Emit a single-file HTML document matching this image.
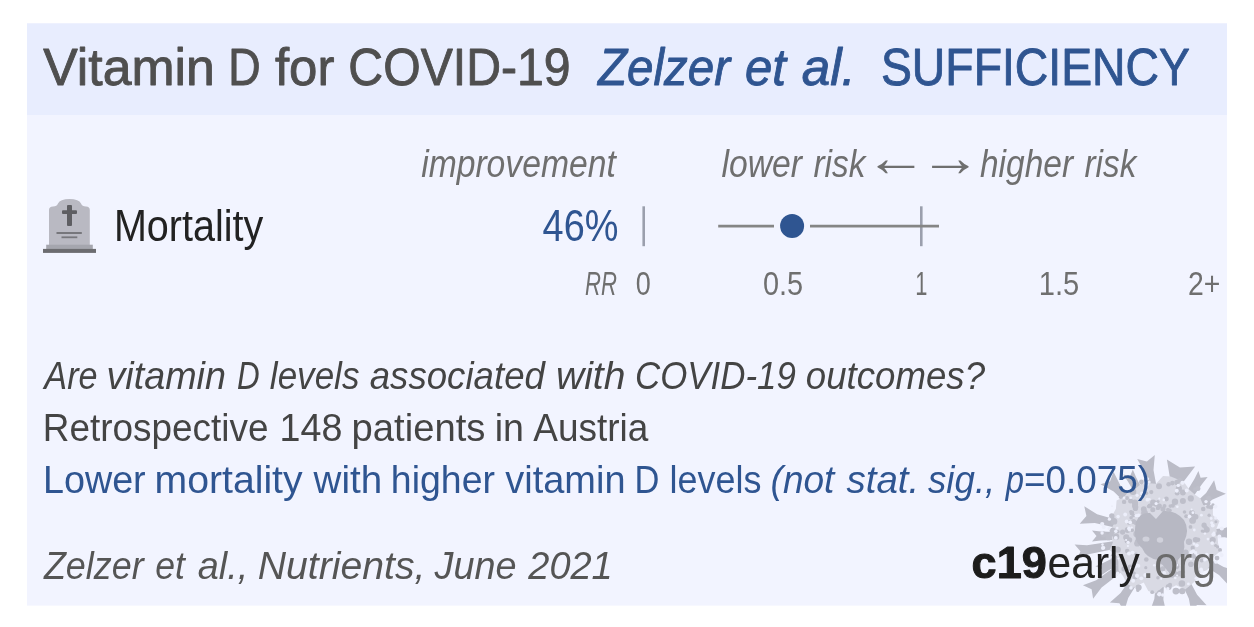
<!DOCTYPE html>
<html lang="en"><head><meta charset="utf-8"><title>Vitamin D for COVID-19: Zelzer et al.</title>
<style>
html,body{margin:0;padding:0;background:#fff;}
body{width:1254px;height:627px;overflow:hidden;font-family:"Liberation Sans", sans-serif;}
svg{display:block;}
text{font-family:"Liberation Sans", sans-serif;white-space:pre;}
</style></head><body>
<svg width="1254" height="627" viewBox="0 0 1254 627">
<defs><clipPath id="panel"><rect x="27" y="23.4" width="1200" height="582.4"/></clipPath></defs>
<rect x="0" y="0" width="1254" height="627" fill="#ffffff"/>
<rect x="27" y="23.4" width="1200" height="582.2" fill="#f2f4ff"/>
<rect x="27" y="23.4" width="1200" height="91.6" fill="#e8edfe"/>
<!-- tombstone icon -->
<g>
<path d="M49 245 V210 Q49 206.5 53 206.5 Q57 206.5 58 203.5 Q60 199 69.5 199 Q79 199 81 203.5 Q82 206.5 86 206.5 Q89.8 206.5 89.8 210 V245 Z" fill="#b9b9c2"/>
<rect x="46.2" y="244.7" width="46.6" height="4.6" fill="#a5a6ae"/>
<rect x="43" y="248.9" width="53" height="4" fill="#6c6c70"/>
<rect x="67" y="205" width="5" height="21" rx="1" fill="#5e5e62"/>
<rect x="62" y="210.2" width="15" height="3.8" rx="1" fill="#5e5e62"/>
<rect x="56.5" y="232" width="25.3" height="2" fill="#77777c"/>
<rect x="61.5" y="236.4" width="15.8" height="1.8" fill="#77777c"/>
</g>
<!-- forest plot -->
<line x1="643.7" y1="206.3" x2="643.7" y2="246.2" stroke="#9b9fad" stroke-width="2.6"/>
<line x1="921.3" y1="206.3" x2="921.3" y2="246.2" stroke="#9b9fad" stroke-width="2.6"/>
<line x1="718.2" y1="226.1" x2="774" y2="226.1" stroke="#858585" stroke-width="2.8"/>
<line x1="810" y1="226.1" x2="939" y2="226.1" stroke="#858585" stroke-width="2.8"/>
<circle cx="792.1" cy="226.1" r="12" fill="#2f5591"/>
<g clip-path="url(#panel)">
<polygon fill="#bbbcc7" points="1157.9,494.1 1153.5,470.1 1154.8,455.1 1146.9,461.4 1137.2,458.9 1144.6,472.0 1150.4,495.7"/>
<polygon fill="#bbbcc7" points="1176.7,496.1 1179.9,486.6 1195.1,466.5 1179.9,467.4 1166.9,459.5 1171.0,484.4 1169.4,494.3"/>
<polygon fill="#bbbcc7" points="1197.3,511.5 1212.1,499.8 1225.9,493.8 1216.6,489.9 1214.1,480.2 1206.1,492.9 1192.4,505.7"/>
<polygon fill="#bbbcc7" points="1205.1,537.6 1224.7,537.3 1238.5,540.5 1233.5,532.2 1237.5,523.5 1224.2,528.2 1204.7,530.0"/>
<polygon fill="#bbbcc7" points="1123.3,521.8 1097.1,514.2 1084.3,506.3 1086.4,516.1 1079.7,523.7 1094.8,523.0 1121.4,529.1"/>
<polygon fill="#bbbcc7" points="1136.6,503.1 1120.3,485.2 1113.5,471.7 1110.1,481.2 1100.5,484.3 1113.7,491.5 1131.1,508.4"/>
<polygon fill="#bbbcc7" points="1121.0,539.9 1087.0,545.3 1074.6,544.6 1080.4,551.2 1077.4,559.4 1088.6,554.3 1122.4,547.3"/>
<polygon fill="#bbbcc7" points="1127.1,558.1 1096.2,580.2 1082.9,585.2 1091.6,589.3 1093.1,598.8 1101.6,587.5 1131.6,564.2"/>
<polygon fill="#bbbcc7" points="1137.0,569.2 1120.6,593.1 1109.9,602.4 1119.4,603.2 1124.1,611.6 1128.2,598.1 1143.4,573.3"/>
<polygon fill="#bbbcc7" points="1156.5,577.7 1154.3,599.1 1149.5,612.4 1158.3,608.5 1166.5,613.6 1163.4,599.7 1164.1,578.2"/>
<polygon fill="#bbbcc7" points="1178.2,575.3 1188.9,598.8 1191.4,612.8 1197.0,605.0 1206.6,605.2 1197.1,594.8 1185.0,572.0"/>
<polygon fill="#bbbcc7" points="1197.1,560.9 1219.0,574.9 1228.6,585.3 1229.1,575.7 1237.4,570.7 1223.7,567.1 1201.0,554.4"/>
<polygon fill="#bbbcc7" points="1146.2,497.3 1136.2,477.5 1132.8,469.4 1130.2,475.9 1123.2,474.6 1128.2,481.9 1139.5,501.0"/>
<polygon fill="#bbbcc7" points="1189.0,502.8 1202.1,483.9 1207.6,477.0 1200.6,477.8 1198.4,471.0 1194.4,478.9 1182.6,498.6"/>
<polygon fill="#bbbcc7" points="1121.0,532.2 1100.8,531.4 1092.0,530.5 1096.5,536.0 1092.0,541.5 1100.8,540.6 1121.0,539.8"/>
<polygon fill="#bbbcc7" points="1124.2,552.6 1103.6,562.8 1095.4,566.2 1102.0,568.9 1100.6,575.8 1107.9,570.8 1127.8,559.3"/>
<polygon fill="#d9dae4" points="1217.5,536.0 1218.1,543.3 1220.2,551.3 1213.5,556.9 1210.7,563.5 1207.3,570.0 1199.7,572.7 1196.6,579.7 1191.1,584.8 1185.2,589.5 1176.2,585.2 1169.9,588.6 1163.0,586.9 1155.4,593.6 1148.3,591.0 1143.7,582.6 1133.1,587.8 1126.7,583.3 1123.0,576.0 1118.4,570.2 1118.3,561.8 1116.7,555.2 1109.6,550.3 1112.8,542.6 1111.1,536.0 1111.0,529.2 1114.4,523.0 1112.5,515.1 1115.9,508.8 1116.6,500.4 1124.0,497.0 1128.7,491.3 1135.5,488.4 1141.3,483.7 1148.9,483.3 1156.1,483.7 1163.0,476.0 1170.8,476.6 1178.1,479.6 1184.8,483.3 1189.6,490.0 1194.8,494.5 1200.4,498.6 1203.2,505.1 1212.9,507.2 1212.9,515.3 1219.5,520.9 1216.4,529.0"/>
<circle cx="1215.9" cy="521.7" r="1.5" fill="#bebfca"/>
<circle cx="1177.3" cy="591.1" r="2.4" fill="#bebfca"/>
<circle cx="1202.2" cy="531.1" r="1.6" fill="#bebfca"/>
<circle cx="1127.0" cy="497.9" r="2.0" fill="#bebfca"/>
<circle cx="1194.9" cy="555.4" r="3.3" fill="#bebfca"/>
<circle cx="1164.5" cy="506.0" r="2.0" fill="#bebfca"/>
<circle cx="1185.6" cy="552.6" r="3.0" fill="#bebfca"/>
<circle cx="1182.8" cy="576.4" r="2.4" fill="#bebfca"/>
<circle cx="1181.5" cy="583.4" r="1.7" fill="#bebfca"/>
<circle cx="1144.4" cy="512.5" r="2.3" fill="#bebfca"/>
<circle cx="1171.1" cy="570.2" r="3.3" fill="#bebfca"/>
<circle cx="1175.0" cy="501.7" r="3.2" fill="#bebfca"/>
<circle cx="1172.6" cy="574.2" r="3.1" fill="#bebfca"/>
<circle cx="1144.5" cy="513.1" r="3.4" fill="#bebfca"/>
<circle cx="1171.0" cy="569.9" r="3.0" fill="#bebfca"/>
<circle cx="1145.8" cy="567.7" r="1.6" fill="#bebfca"/>
<circle cx="1201.7" cy="560.6" r="2.0" fill="#bebfca"/>
<circle cx="1131.9" cy="513.0" r="2.4" fill="#bebfca"/>
<circle cx="1204.1" cy="525.2" r="2.6" fill="#bebfca"/>
<circle cx="1184.5" cy="512.0" r="1.8" fill="#bebfca"/>
<circle cx="1208.1" cy="506.7" r="2.0" fill="#bebfca"/>
<circle cx="1181.9" cy="583.5" r="3.3" fill="#bebfca"/>
<circle cx="1182.2" cy="591.1" r="3.2" fill="#bebfca"/>
<circle cx="1130.9" cy="511.6" r="1.7" fill="#bebfca"/>
<circle cx="1220.0" cy="550.1" r="2.0" fill="#bebfca"/>
<circle cx="1153.2" cy="502.7" r="3.1" fill="#bebfca"/>
<circle cx="1133.4" cy="515.5" r="1.8" fill="#bebfca"/>
<circle cx="1157.8" cy="508.2" r="1.9" fill="#bebfca"/>
<circle cx="1111.8" cy="516.0" r="2.7" fill="#bebfca"/>
<circle cx="1152.2" cy="592.2" r="1.9" fill="#bebfca"/>
<circle cx="1198.0" cy="539.7" r="2.3" fill="#bebfca"/>
<circle cx="1192.7" cy="547.9" r="2.2" fill="#bebfca"/>
<circle cx="1135.6" cy="522.7" r="2.2" fill="#bebfca"/>
<circle cx="1208.9" cy="498.4" r="2.7" fill="#bebfca"/>
<circle cx="1146.4" cy="493.2" r="1.8" fill="#bebfca"/>
<circle cx="1189.0" cy="541.8" r="3.2" fill="#bebfca"/>
<circle cx="1145.2" cy="480.0" r="1.5" fill="#bebfca"/>
<circle cx="1135.2" cy="504.0" r="2.9" fill="#bebfca"/>
<circle cx="1137.8" cy="590.4" r="1.6" fill="#bebfca"/>
<circle cx="1114.1" cy="521.4" r="3.2" fill="#bebfca"/>
<circle cx="1159.0" cy="486.2" r="3.0" fill="#bebfca"/>
<circle cx="1195.7" cy="516.7" r="2.8" fill="#bebfca"/>
<circle cx="1208.2" cy="503.5" r="2.3" fill="#bebfca"/>
<circle cx="1176.9" cy="482.4" r="2.6" fill="#bebfca"/>
<circle cx="1135.4" cy="508.4" r="2.6" fill="#bebfca"/>
<circle cx="1140.7" cy="517.8" r="2.7" fill="#bebfca"/>
<circle cx="1218.9" cy="533.7" r="2.9" fill="#bebfca"/>
<circle cx="1124.0" cy="568.9" r="2.6" fill="#bebfca"/>
<circle cx="1112.3" cy="555.9" r="1.7" fill="#bebfca"/>
<circle cx="1163.0" cy="509.0" r="2.6" fill="#bebfca"/>
<circle cx="1129.4" cy="540.0" r="2.8" fill="#bebfca"/>
<circle cx="1116.1" cy="536.8" r="3.2" fill="#bebfca"/>
<circle cx="1162.0" cy="562.4" r="2.1" fill="#bebfca"/>
<circle cx="1148.6" cy="506.4" r="1.8" fill="#bebfca"/>
<circle cx="1203.2" cy="509.0" r="2.3" fill="#bebfca"/>
<circle cx="1191.9" cy="512.7" r="2.8" fill="#bebfca"/>
<circle cx="1175.9" cy="574.5" r="3.0" fill="#bebfca"/>
<circle cx="1211.0" cy="507.3" r="2.2" fill="#bebfca"/>
<circle cx="1131.1" cy="517.7" r="1.8" fill="#bebfca"/>
<circle cx="1108.6" cy="537.2" r="3.1" fill="#bebfca"/>
<circle cx="1148.9" cy="479.4" r="2.0" fill="#bebfca"/>
<circle cx="1183.1" cy="572.1" r="2.0" fill="#bebfca"/>
<circle cx="1172.0" cy="575.1" r="2.7" fill="#bebfca"/>
<circle cx="1126.3" cy="537.4" r="3.1" fill="#bebfca"/>
<circle cx="1204.1" cy="531.3" r="1.6" fill="#bebfca"/>
<circle cx="1217.6" cy="546.9" r="1.6" fill="#bebfca"/>
<circle cx="1151.3" cy="492.1" r="2.1" fill="#bebfca"/>
<circle cx="1169.9" cy="510.3" r="1.8" fill="#bebfca"/>
<circle cx="1137.2" cy="543.5" r="3.1" fill="#bebfca"/>
<circle cx="1165.4" cy="566.7" r="1.6" fill="#bebfca"/>
<circle cx="1134.7" cy="506.1" r="2.7" fill="#bebfca"/>
<circle cx="1133.0" cy="491.8" r="3.3" fill="#bebfca"/>
<circle cx="1149.9" cy="506.0" r="2.4" fill="#bebfca"/>
<circle cx="1174.4" cy="559.8" r="2.4" fill="#bebfca"/>
<circle cx="1155.8" cy="504.7" r="2.0" fill="#bebfca"/>
<circle cx="1134.9" cy="577.0" r="2.5" fill="#bebfca"/>
<circle cx="1124.1" cy="501.9" r="2.2" fill="#bebfca"/>
<circle cx="1177.8" cy="481.1" r="1.7" fill="#bebfca"/>
<circle cx="1209.1" cy="515.2" r="1.7" fill="#bebfca"/>
<circle cx="1117.7" cy="549.6" r="3.2" fill="#bebfca"/>
<circle cx="1130.6" cy="567.7" r="3.2" fill="#bebfca"/>
<circle cx="1179.8" cy="480.4" r="2.4" fill="#bebfca"/>
<circle cx="1143.8" cy="509.2" r="2.9" fill="#bebfca"/>
<circle cx="1182.9" cy="492.5" r="2.9" fill="#bebfca"/>
<circle cx="1175.9" cy="591.1" r="3.4" fill="#bebfca"/>
<circle cx="1206.8" cy="529.7" r="3.0" fill="#bebfca"/>
<circle cx="1138.6" cy="587.5" r="3.1" fill="#bebfca"/>
<circle cx="1146.3" cy="559.5" r="2.3" fill="#bebfca"/>
<circle cx="1113.5" cy="519.8" r="2.4" fill="#bebfca"/>
<circle cx="1215.7" cy="545.5" r="1.6" fill="#bebfca"/>
<circle cx="1172.8" cy="505.7" r="2.1" fill="#bebfca"/>
<circle cx="1170.3" cy="506.1" r="1.8" fill="#bebfca"/>
<circle cx="1112.7" cy="530.8" r="3.1" fill="#bebfca"/>
<circle cx="1141.4" cy="482.0" r="2.4" fill="#bebfca"/>
<circle cx="1190.5" cy="526.9" r="1.9" fill="#bebfca"/>
<circle cx="1127.6" cy="530.0" r="2.9" fill="#bebfca"/>
<circle cx="1134.9" cy="502.5" r="3.1" fill="#bebfca"/>
<circle cx="1129.0" cy="522.5" r="2.2" fill="#bebfca"/>
<circle cx="1194.9" cy="489.2" r="1.9" fill="#bebfca"/>
<circle cx="1197.9" cy="488.5" r="2.5" fill="#bebfca"/>
<circle cx="1133.6" cy="521.5" r="2.5" fill="#bebfca"/>
<circle cx="1116.4" cy="535.1" r="1.6" fill="#bebfca"/>
<circle cx="1205.7" cy="527.7" r="2.3" fill="#bebfca"/>
<circle cx="1177.2" cy="493.2" r="2.4" fill="#bebfca"/>
<circle cx="1152.8" cy="509.7" r="2.5" fill="#bebfca"/>
<circle cx="1112.8" cy="566.2" r="3.3" fill="#bebfca"/>
<circle cx="1157.9" cy="577.8" r="1.7" fill="#bebfca"/>
<circle cx="1113.9" cy="557.7" r="3.2" fill="#bebfca"/>
<circle cx="1126.6" cy="541.4" r="1.9" fill="#bebfca"/>
<circle cx="1120.6" cy="497.2" r="1.7" fill="#bebfca"/>
<circle cx="1167.9" cy="509.7" r="1.9" fill="#bebfca"/>
<circle cx="1170.0" cy="584.9" r="2.1" fill="#bebfca"/>
<circle cx="1134.1" cy="573.1" r="1.7" fill="#bebfca"/>
<circle cx="1159.4" cy="506.0" r="2.5" fill="#bebfca"/>
<circle cx="1162.9" cy="568.7" r="2.5" fill="#bebfca"/>
<circle cx="1127.2" cy="551.0" r="2.3" fill="#bebfca"/>
<circle cx="1132.1" cy="530.2" r="1.9" fill="#bebfca"/>
<circle cx="1130.6" cy="501.0" r="2.5" fill="#bebfca"/>
<circle cx="1190.8" cy="498.4" r="3.1" fill="#bebfca"/>
<circle cx="1168.6" cy="586.9" r="3.0" fill="#bebfca"/>
<circle cx="1193.1" cy="514.9" r="2.1" fill="#bebfca"/>
<circle cx="1192.6" cy="520.4" r="3.4" fill="#bebfca"/>
<circle cx="1186.2" cy="516.2" r="2.0" fill="#bebfca"/>
<circle cx="1157.9" cy="501.6" r="1.7" fill="#bebfca"/>
<circle cx="1182.9" cy="500.9" r="3.0" fill="#bebfca"/>
<circle cx="1190.9" cy="564.2" r="2.8" fill="#bebfca"/>
<circle cx="1195.6" cy="539.7" r="2.8" fill="#bebfca"/>
<circle cx="1213.0" cy="504.9" r="1.7" fill="#bebfca"/>
<circle cx="1111.3" cy="534.2" r="2.5" fill="#bebfca"/>
<circle cx="1150.2" cy="506.2" r="1.6" fill="#bebfca"/>
<circle cx="1184.4" cy="552.9" r="2.5" fill="#bebfca"/>
<circle cx="1117.9" cy="531.8" r="1.8" fill="#bebfca"/>
<circle cx="1176.2" cy="566.2" r="3.1" fill="#bebfca"/>
<circle cx="1220.4" cy="532.5" r="1.7" fill="#bebfca"/>
<circle cx="1217.0" cy="558.1" r="2.4" fill="#bebfca"/>
<circle cx="1166.4" cy="499.0" r="2.4" fill="#bebfca"/>
<circle cx="1122.6" cy="532.1" r="2.6" fill="#bebfca"/>
<circle cx="1212.7" cy="540.1" r="3.1" fill="#bebfca"/>
<circle cx="1180.3" cy="573.6" r="2.9" fill="#bebfca"/>
<circle cx="1136.0" cy="554.3" r="1.8" fill="#bebfca"/>
<circle cx="1136.6" cy="533.9" r="3.2" fill="#bebfca"/>
<circle cx="1178.9" cy="488.7" r="3.1" fill="#bebfca"/>
<circle cx="1135.7" cy="507.1" r="2.6" fill="#bebfca"/>
<circle cx="1103.6" cy="534.4" r="3.0" fill="#bebfca"/>
<circle cx="1160.0" cy="592.9" r="2.9" fill="#bebfca"/>
<circle cx="1172.4" cy="483.1" r="2.3" fill="#bebfca"/>
<circle cx="1207.5" cy="502.2" r="2.8" fill="#bebfca"/>
<circle cx="1168.6" cy="484.3" r="2.3" fill="#bebfca"/>
<circle cx="1158.1" cy="508.0" r="2.1" fill="#bebfca"/>
<circle cx="1137.1" cy="541.1" r="2.2" fill="#bebfca"/>
<circle cx="1130.8" cy="497.8" r="1.3" fill="#eceefa"/>
<circle cx="1211.2" cy="518.5" r="1.4" fill="#eceefa"/>
<circle cx="1137.1" cy="495.3" r="1.6" fill="#eceefa"/>
<circle cx="1115.3" cy="575.6" r="1.8" fill="#eceefa"/>
<circle cx="1146.6" cy="484.2" r="2.2" fill="#eceefa"/>
<circle cx="1212.2" cy="543.1" r="1.9" fill="#eceefa"/>
<circle cx="1161.2" cy="578.8" r="1.1" fill="#eceefa"/>
<circle cx="1177.1" cy="575.6" r="1.1" fill="#eceefa"/>
<circle cx="1162.7" cy="595.0" r="1.7" fill="#eceefa"/>
<circle cx="1102.1" cy="533.0" r="1.7" fill="#eceefa"/>
<circle cx="1213.4" cy="534.4" r="2.0" fill="#eceefa"/>
<circle cx="1206.6" cy="558.6" r="1.9" fill="#eceefa"/>
<circle cx="1220.4" cy="552.7" r="1.2" fill="#eceefa"/>
<circle cx="1128.1" cy="542.3" r="1.6" fill="#eceefa"/>
<circle cx="1138.6" cy="515.5" r="2.1" fill="#eceefa"/>
<circle cx="1121.8" cy="558.4" r="1.7" fill="#eceefa"/>
<circle cx="1137.0" cy="565.3" r="1.8" fill="#eceefa"/>
<circle cx="1126.7" cy="521.5" r="1.9" fill="#eceefa"/>
<circle cx="1154.3" cy="565.2" r="1.3" fill="#eceefa"/>
<circle cx="1196.8" cy="545.3" r="1.9" fill="#eceefa"/>
<circle cx="1117.8" cy="573.4" r="1.9" fill="#eceefa"/>
<circle cx="1221.6" cy="555.1" r="2.1" fill="#eceefa"/>
<circle cx="1215.8" cy="562.3" r="1.5" fill="#eceefa"/>
<circle cx="1102.5" cy="544.6" r="1.3" fill="#eceefa"/>
<circle cx="1103.7" cy="527.2" r="1.9" fill="#eceefa"/>
<circle cx="1102.9" cy="548.1" r="2.0" fill="#eceefa"/>
<circle cx="1136.2" cy="515.6" r="1.7" fill="#eceefa"/>
<circle cx="1127.9" cy="546.0" r="1.1" fill="#eceefa"/>
<circle cx="1129.5" cy="530.0" r="1.5" fill="#eceefa"/>
<circle cx="1141.0" cy="497.2" r="1.3" fill="#eceefa"/>
<circle cx="1125.2" cy="514.5" r="1.9" fill="#eceefa"/>
<circle cx="1102.2" cy="524.1" r="2.1" fill="#eceefa"/>
<circle cx="1159.3" cy="498.6" r="1.1" fill="#eceefa"/>
<circle cx="1206.0" cy="501.6" r="1.7" fill="#eceefa"/>
<circle cx="1138.5" cy="565.9" r="1.8" fill="#eceefa"/>
<circle cx="1118.1" cy="516.6" r="1.8" fill="#eceefa"/>
<circle cx="1163.8" cy="499.9" r="1.3" fill="#eceefa"/>
<circle cx="1221.8" cy="528.5" r="2.1" fill="#eceefa"/>
<circle cx="1194.0" cy="543.8" r="1.3" fill="#eceefa"/>
<circle cx="1118.5" cy="558.6" r="1.1" fill="#eceefa"/>
<circle cx="1131.8" cy="527.6" r="1.1" fill="#eceefa"/>
<circle cx="1141.7" cy="493.4" r="1.8" fill="#eceefa"/>
<circle cx="1131.3" cy="568.4" r="1.3" fill="#eceefa"/>
<circle cx="1133.1" cy="580.8" r="2.0" fill="#eceefa"/>
<circle cx="1193.2" cy="551.2" r="2.0" fill="#eceefa"/>
<circle cx="1124.1" cy="497.7" r="1.3" fill="#eceefa"/>
<circle cx="1129.0" cy="553.5" r="2.0" fill="#eceefa"/>
<circle cx="1128.4" cy="573.3" r="2.2" fill="#eceefa"/>
<circle cx="1141.3" cy="578.3" r="1.9" fill="#eceefa"/>
<circle cx="1201.4" cy="515.2" r="1.4" fill="#eceefa"/>
<circle cx="1210.6" cy="569.2" r="1.1" fill="#eceefa"/>
<circle cx="1204.7" cy="559.9" r="1.6" fill="#eceefa"/>
<circle cx="1147.4" cy="499.7" r="1.9" fill="#eceefa"/>
<circle cx="1195.7" cy="552.9" r="1.8" fill="#eceefa"/>
<circle cx="1197.6" cy="555.5" r="1.9" fill="#eceefa"/>
<circle cx="1149.5" cy="499.3" r="1.2" fill="#eceefa"/>
<circle cx="1129.6" cy="577.5" r="1.4" fill="#eceefa"/>
<circle cx="1202.0" cy="571.4" r="1.7" fill="#eceefa"/>
<circle cx="1215.4" cy="506.6" r="2.1" fill="#eceefa"/>
<circle cx="1111.5" cy="557.2" r="1.4" fill="#eceefa"/>
<circle cx="1145.4" cy="575.0" r="2.1" fill="#eceefa"/>
<circle cx="1192.9" cy="512.7" r="1.4" fill="#eceefa"/>
<circle cx="1135.4" cy="567.1" r="1.5" fill="#eceefa"/>
<circle cx="1135.4" cy="559.5" r="1.7" fill="#eceefa"/>
<circle cx="1176.8" cy="490.8" r="2.0" fill="#eceefa"/>
<circle cx="1130.1" cy="522.3" r="1.9" fill="#eceefa"/>
<circle cx="1191.6" cy="509.5" r="1.0" fill="#eceefa"/>
<circle cx="1115.8" cy="531.3" r="1.7" fill="#eceefa"/>
<circle cx="1212.7" cy="525.4" r="2.0" fill="#eceefa"/>
<circle cx="1206.7" cy="554.6" r="1.9" fill="#eceefa"/>
<circle cx="1191.2" cy="552.4" r="1.9" fill="#eceefa"/>
<circle cx="1189.4" cy="516.6" r="1.8" fill="#eceefa"/>
<circle cx="1196.3" cy="578.3" r="1.8" fill="#eceefa"/>
<circle cx="1164.1" cy="573.0" r="1.9" fill="#eceefa"/>
<circle cx="1109.0" cy="528.6" r="1.5" fill="#eceefa"/>
<circle cx="1131.0" cy="587.9" r="1.8" fill="#eceefa"/>
<circle cx="1115.8" cy="537.9" r="1.9" fill="#eceefa"/>
<circle cx="1147.6" cy="478.8" r="1.5" fill="#eceefa"/>
<circle cx="1186.7" cy="490.4" r="2.0" fill="#eceefa"/>
<circle cx="1182.5" cy="482.8" r="2.1" fill="#eceefa"/>
<circle cx="1211.7" cy="522.8" r="1.6" fill="#eceefa"/>
<circle cx="1149.2" cy="482.1" r="1.5" fill="#eceefa"/>
<circle cx="1132.6" cy="552.6" r="1.9" fill="#eceefa"/>
<circle cx="1204.9" cy="533.6" r="1.2" fill="#eceefa"/>
<circle cx="1175.3" cy="577.8" r="1.4" fill="#eceefa"/>
<circle cx="1194.3" cy="530.0" r="1.4" fill="#eceefa"/>
<circle cx="1201.1" cy="569.5" r="1.9" fill="#eceefa"/>
<circle cx="1176.7" cy="564.9" r="1.6" fill="#eceefa"/>
<circle cx="1112.0" cy="506.2" r="1.0" fill="#eceefa"/>
<circle cx="1190.9" cy="558.7" r="1.3" fill="#eceefa"/>
<circle cx="1167.8" cy="588.7" r="1.7" fill="#eceefa"/>
<circle cx="1168.9" cy="571.4" r="1.3" fill="#eceefa"/>
<circle cx="1188.4" cy="583.9" r="1.4" fill="#eceefa"/>
<circle cx="1109.4" cy="519.2" r="1.6" fill="#eceefa"/>
<circle cx="1159.2" cy="594.3" r="2.1" fill="#eceefa"/>
<circle cx="1137.0" cy="575.8" r="2.1" fill="#eceefa"/>
<circle cx="1126.1" cy="540.0" r="1.1" fill="#eceefa"/>
<circle cx="1215.6" cy="518.0" r="1.5" fill="#eceefa"/>
<circle cx="1117.2" cy="528.0" r="1.3" fill="#eceefa"/>
<circle cx="1213.9" cy="532.9" r="1.3" fill="#eceefa"/>
<circle cx="1208.0" cy="539.1" r="1.4" fill="#eceefa"/>
<circle cx="1178.3" cy="485.4" r="1.7" fill="#eceefa"/>
<circle cx="1182.3" cy="565.2" r="1.4" fill="#eceefa"/>
<circle cx="1159.6" cy="593.7" r="1.6" fill="#eceefa"/>
<circle cx="1122.7" cy="489.2" r="1.3" fill="#eceefa"/>
<circle cx="1129.0" cy="528.5" r="1.9" fill="#eceefa"/>
<circle cx="1219.3" cy="536.5" r="2.0" fill="#eceefa"/>
<circle cx="1177.3" cy="506.7" r="1.3" fill="#eceefa"/>
<circle cx="1156.1" cy="503.6" r="1.6" fill="#eceefa"/>
<circle cx="1103.6" cy="547.8" r="1.7" fill="#eceefa"/>
<path fill="#b7b8c3" d="M1136 522 Q1140 512 1150 513 L1156 519 L1163 511 Q1176 510 1184 520 Q1190 530 1184 542 Q1186 552 1178 560 Q1176 572 1170 574 Q1164 566 1158 560 Q1146 558 1142 548 Q1132 540 1136 522 Z"/>
<ellipse cx="1146" cy="539" rx="3.5" ry="2.6" fill="#d0d1db"/><ellipse cx="1160" cy="540" rx="3.2" ry="2.8" fill="#d0d1db"/>
</g>
<g>
<text transform="translate(43.25 85.00) scale(0.9944 1.0000)" font-size="52.03" fill="#4f4f4f" stroke="#4f4f4f" stroke-width="0.9" stroke-linejoin="round">Vitamin</text>
<text transform="translate(228.28 85.00) scale(0.8617 1.0000)" font-size="52.03" fill="#4f4f4f" stroke="#4f4f4f" stroke-width="0.9" stroke-linejoin="round">D</text>
<text transform="translate(274.94 85.00) scale(0.9793 1.0000)" font-size="52.03" fill="#4f4f4f" stroke="#4f4f4f" stroke-width="0.9" stroke-linejoin="round">for</text>
<text transform="translate(348.36 85.00) scale(0.9266 1.0000)" font-size="52.03" fill="#4f4f4f" stroke="#4f4f4f" stroke-width="0.9" stroke-linejoin="round">COVID-19</text>
<text transform="translate(597.90 85.00) scale(0.9144 1.0000)" font-size="52.03" fill="#2f5591" font-style="italic" stroke="#2f5591" stroke-width="0.9" stroke-linejoin="round">Zelzer</text>
<text transform="translate(744.89 85.00) scale(0.9444 1.0000)" font-size="52.03" fill="#2f5591" font-style="italic" stroke="#2f5591" stroke-width="0.9" stroke-linejoin="round">et</text>
<text transform="translate(801.64 85.00) scale(0.9853 1.0000)" font-size="52.03" fill="#2f5591" font-style="italic" stroke="#2f5591" stroke-width="0.9" stroke-linejoin="round">al.</text>
<text transform="translate(880.95 85.00) scale(0.8911 1.0000)" font-size="52.03" fill="#2f5591" stroke="#2f5591" stroke-width="0.9" stroke-linejoin="round">SUFFICIENCY</text>
<text transform="translate(421.17 177.00) scale(0.8526 1.0000)" font-size="39.50" fill="#6f6f6f" font-style="italic">improvement</text>
<text transform="translate(721.47 177.00) scale(0.8540 1.0000)" font-size="39.50" fill="#6f6f6f" font-style="italic">lower</text>
<text transform="translate(813.48 177.00) scale(0.8458 1.0000)" font-size="39.50" fill="#6f6f6f" font-style="italic">risk</text>
<text transform="translate(979.98 177.00) scale(0.8489 1.0000)" font-size="39.50" fill="#6f6f6f" font-style="italic">higher</text>
<text transform="translate(1084.48 177.00) scale(0.8442 1.0000)" font-size="39.50" fill="#6f6f6f" font-style="italic">risk</text>
<text transform="translate(113.91 241.00) scale(0.8775 1.0000)" font-size="45.06" fill="#222222">Mortality</text>
<text transform="translate(542.61 241.00) scale(0.8407 1.0000)" font-size="45.06" fill="#2f5591">46%</text>
<text transform="translate(584.95 295.00) scale(0.6679 1.0000)" font-size="33.14" fill="#6f6f6f" font-style="italic">RR</text>
<text transform="translate(635.76 295.00) scale(0.8147 1.0000)" font-size="33.14" fill="#6f6f6f">0</text>
<text transform="translate(763.00 295.00) scale(0.8721 1.0000)" font-size="33.14" fill="#6f6f6f">0.5</text>
<text transform="translate(915.33 295.00) scale(0.6593 1.0000)" font-size="33.14" fill="#6f6f6f">1</text>
<text transform="translate(1038.68 295.00) scale(0.8792 1.0000)" font-size="33.14" fill="#6f6f6f">1.5</text>
<text transform="translate(1188.07 295.00) scale(0.8571 1.0000)" font-size="33.14" fill="#6f6f6f">2+</text>
<text transform="translate(44.34 388.80) scale(0.8618 1.0000)" font-size="39.68" fill="#444444" font-style="italic">Are</text>
<text transform="translate(106.43 388.80) scale(0.9516 1.0000)" font-size="39.68" fill="#444444" font-style="italic">vitamin</text>
<text transform="translate(236.91 388.80) scale(0.7918 1.0000)" font-size="39.68" fill="#444444" font-style="italic">D</text>
<text transform="translate(269.85 388.80) scale(0.8832 1.0000)" font-size="39.68" fill="#444444" font-style="italic">levels</text>
<text transform="translate(369.73 388.80) scale(0.9235 1.0000)" font-size="39.68" fill="#444444" font-style="italic">associated</text>
<text transform="translate(555.97 388.80) scale(0.9852 1.0000)" font-size="39.68" fill="#444444" font-style="italic">with</text>
<text transform="translate(634.97 388.80) scale(0.8789 1.0000)" font-size="39.68" fill="#444444" font-style="italic">COVID-19</text>
<text transform="translate(805.86 388.80) scale(0.9233 1.0000)" font-size="39.68" fill="#444444" font-style="italic">outcomes?</text>
<text transform="translate(42.82 441.00) scale(0.9303 1.0000)" font-size="39.68" fill="#444444">Retrospective</text>
<text transform="translate(279.55 441.00) scale(0.9482 1.0000)" font-size="39.68" fill="#444444">148</text>
<text transform="translate(351.61 441.00) scale(0.9633 1.0000)" font-size="39.68" fill="#444444">patients</text>
<text transform="translate(494.65 441.00) scale(0.9474 1.0000)" font-size="39.68" fill="#444444">in</text>
<text transform="translate(533.30 441.00) scale(0.9317 1.0000)" font-size="39.68" fill="#444444">Austria</text>
<text transform="translate(42.95 492.60) scale(0.9506 1.0000)" font-size="39.68" fill="#2f5591">Lower</text>
<text transform="translate(154.55 492.60) scale(0.9875 1.0000)" font-size="39.68" fill="#2f5591">mortality</text>
<text transform="translate(313.60 492.60) scale(0.9716 1.0000)" font-size="39.68" fill="#2f5591">with</text>
<text transform="translate(390.86 492.60) scale(0.9440 1.0000)" font-size="39.68" fill="#2f5591">higher</text>
<text transform="translate(505.30 492.60) scale(0.9566 1.0000)" font-size="39.68" fill="#2f5591">vitamin</text>
<text transform="translate(634.61 492.60) scale(0.8685 1.0000)" font-size="39.68" fill="#2f5591">D</text>
<text transform="translate(669.55 492.60) scale(0.9056 1.0000)" font-size="39.68" fill="#2f5591">levels</text>
<text transform="translate(770.57 492.60) scale(0.9324 1.0000)" font-size="39.68" fill="#2f5591" font-style="italic">(not</text>
<text transform="translate(846.50 492.60) scale(0.9707 1.0000)" font-size="39.68" fill="#2f5591" font-style="italic">stat.</text>
<text transform="translate(928.00 492.60) scale(0.9246 1.0000)" font-size="39.68" fill="#2f5591" font-style="italic">sig.,</text>
<text transform="translate(1005.83 492.60) scale(0.8288 1.0000)" font-size="39.68" fill="#2f5591" font-style="italic">p</text>
<text transform="translate(1024.07 492.60) scale(0.9289 1.0000)" font-size="39.68" fill="#2f5591">=0.075)</text>
<text transform="translate(43.92 578.50) scale(0.9059 1.0000)" font-size="39.68" fill="#555555" font-style="italic">Zelzer</text>
<text transform="translate(155.19 578.50) scale(0.8968 1.0000)" font-size="39.68" fill="#555555" font-style="italic">et</text>
<text transform="translate(197.81 578.50) scale(0.9541 1.0000)" font-size="39.68" fill="#555555" font-style="italic">al.,</text>
<text transform="translate(257.69 578.50) scale(0.9880 1.0000)" font-size="39.68" fill="#555555" font-style="italic">Nutrients,</text>
<text transform="translate(434.59 578.50) scale(0.9536 1.0000)" font-size="39.68" fill="#555555" font-style="italic">June</text>
<text transform="translate(528.29 578.50) scale(0.9565 1.0000)" font-size="39.68" fill="#555555" font-style="italic">2021</text>
<text transform="translate(971.60 578.40) scale(1.0231 1.0000)" font-size="44.00" fill="#1c1c1c" font-weight="bold" stroke="#1c1c1c" stroke-width="1.0" stroke-linejoin="round">c19</text>
<text transform="translate(1047.57 578.40) scale(0.9671 1.0000)" font-size="44.00" fill="#222222">early</text>
<text transform="translate(1142.25 578.40) scale(0.9741 1.0000)" font-size="44.00" fill="#6b6b6b">.org</text>
<text transform="translate(864.64 176.19) scale(1.5978 1.4154)" font-size="39.00" fill="#6f6f6f">←</text>
<text transform="translate(919.48 176.19) scale(1.5806 1.4154)" font-size="39.00" fill="#6f6f6f">→</text>
</g>
</svg>
</body></html>
